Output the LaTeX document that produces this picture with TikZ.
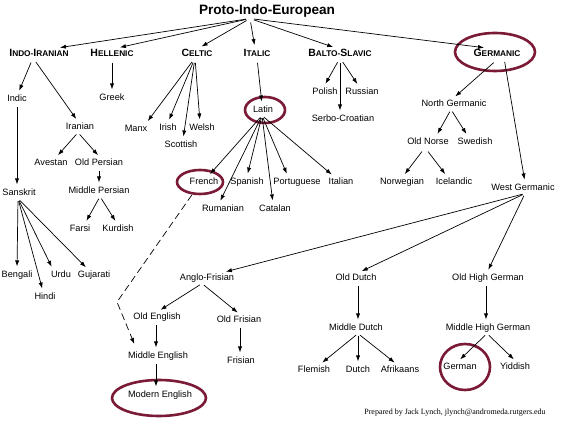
\documentclass[tikz,border=0pt]{standalone}
\usepackage{fontspec}
\setmainfont{Liberation Sans}
\newfontfamily\creditfont{Liberation Serif}
\usetikzlibrary{arrows.meta}
\definecolor{ringred}{HTML}{7A1A36}
\newcommand{\bc}[1]{{\fontsize{10.5}{11}\selectfont #1}}
\begin{document}
\begin{tikzpicture}[x=1pt,y=-1pt,
  lang/.style={font=\fontsize{9.2}{10}\selectfont, inner sep=1pt, text height=6.8pt, text depth=1.9pt},
  hdr/.style={font=\bfseries\fontsize{8.3}{9}\selectfont, inner sep=1pt, text height=7pt, text depth=0.5pt},
  arr/.style={draw, line width=0.7pt, -{Latex[length=6pt,width=4.2pt]}, shorten <=2.5pt, shorten >=3pt},
  hs/.style={shorten <=5pt},
  ring/.style={draw=ringred, line width=2.6pt},
]
\useasboundingbox (0,0) rectangle (576,427);
\fill[white] (0,0) rectangle (576,427);

% title and branches
\node[font=\bfseries\fontsize{13.6}{14}\selectfont, inner sep=1pt] (title) at (267,11) {Proto-Indo-European};
\node[hdr] (ii)  at (39,53)  {\bc{I}NDO-\bc{I}RANIAN};
\node[hdr] (hel) at (112,53) {\bc{H}ELLENIC};
\node[hdr] (cel) at (197,53) {\bc{C}ELTIC};
\node[hdr] (ita) at (257,53) {\bc{I}TALIC};
\node[hdr] (bs)  at (340,53) {\bc{B}ALTO-\bc{S}LAVIC};
\node[hdr] (ger) at (497,53) {\bc{G}ERMANIC};

% languages
\node[lang] (indic) at (17,99) {Indic};
\node[lang] (greek) at (112,98) {Greek};
\node[lang] (latin) at (263,110) {Latin};
\node[lang] (iranian) at (80,127) {Iranian};
\node[lang] (manx) at (136,129) {Manx};
\node[lang] (irish) at (168,128) {Irish};
\node[lang] (welsh) at (202,128) {Welsh};
\node[lang] (scottish) at (181,145) {Scottish};
\node[lang] (polish) at (325,92) {Polish};
\node[lang] (russian) at (362,92) {Russian};
\node[lang] (serbo) at (343,119) {Serbo-Croatian};
\node[lang] (ng) at (454,104) {North Germanic};
\node[lang] (onorse) at (428,142) {Old Norse};
\node[lang] (swedish) at (475,142) {Swedish};
\node[lang] (avestan) at (51,163) {Avestan};
\node[lang] (opersian) at (99,163) {Old Persian};
\node[lang] (sanskrit) at (19,193) {Sanskrit};
\node[lang] (mpersian) at (99,191) {Middle Persian};
\node[lang] (farsi) at (80,229) {Farsi};
\node[lang] (kurdish) at (118,229) {Kurdish};
\node[lang] (bengali) at (17,275) {Bengali};
\node[lang] (urdu) at (61,275) {Urdu};
\node[lang] (gujarati) at (94,275) {Gujarati};
\node[lang] (hindi) at (45,297) {Hindi};
\node[lang] (french) at (204,182) {French};
\node[lang] (spanish) at (247,182) {Spanish};
\node[lang] (portuguese) at (297,182) {Portuguese};
\node[lang] (italian) at (341,182) {Italian};
\node[lang] (rumanian) at (223,209) {Rumanian};
\node[lang] (catalan) at (275,209) {Catalan};
\node[lang] (norwegian) at (402,182) {Norwegian};
\node[lang] (icelandic) at (454,182) {Icelandic};
\node[lang] (wg) at (523,188) {West Germanic};
\node[lang] (oldd) at (356,278) {Old Dutch};
\node[lang] (ohg) at (488,278) {Old High German};
\node[lang] (af) at (207,278) {Anglo-Frisian};
\node[lang] (oe) at (157,317) {Old English};
\node[lang] (ofr) at (239,320) {Old Frisian};
\node[lang] (me) at (158,356) {Middle English};
\node[lang] (frisian) at (241,361) {Frisian};
\node[lang] (mode) at (160,395) {Modern English};
\node[lang] (md) at (356,328) {Middle Dutch};
\node[lang] (flemish) at (314,370) {Flemish};
\node[lang] (dutch) at (358,370) {Dutch};
\node[lang] (afrikaans) at (400,370) {Afrikaans};
\node[lang] (mhg) at (488,328) {Middle High German};
\node[lang] (german) at (460,367) {German};
\node[lang] (yiddish) at (515,367) {Yiddish};

\node[font=\creditfont\fontsize{8}{9}\selectfont, inner sep=0pt] (credit) at (455,413) {Prepared by Jack Lynch, jlynch@andromeda.rutgers.edu};

% rings
\draw[ring] ([xshift=-2pt,yshift=1pt]ger.center) ellipse [x radius=40pt, y radius=19pt];
\draw[ring] ([xshift=2pt]latin.center) ellipse [x radius=20pt, y radius=13pt];
\draw[ring] ([xshift=-4pt]french.center) ellipse [x radius=23pt, y radius=12pt];
\draw[ring] ([xshift=-1pt,yshift=-3pt]mode.center) ellipse [x radius=47pt, y radius=18pt];
\draw[ring] ([xshift=5pt]german.center) ellipse [x radius=25pt, y radius=23pt];

% title arrows
\draw[arr, shorten <=4pt] ([xshift=-17pt]title.south) -- ([xshift=18pt]ii.north);
\draw[arr, shorten <=4pt] ([xshift=-17pt]title.south) -- ([xshift=5pt]hel.north);
\draw[arr, shorten <=4pt] ([xshift=-17pt]title.south) -- ([xshift=2pt]cel.north);
\draw[arr, shorten <=4pt] ([xshift=-17pt]title.south) -- ([xshift=-2pt]ita.north);
\draw[arr, shorten <=4pt] ([xshift=-17pt]title.south) -- ([xshift=-4pt]bs.north);
\draw[arr, shorten <=4pt] ([xshift=-17pt]title.south) -- ([xshift=-10pt]ger.north);

% Indo-Iranian
\draw[arr,hs] ([xshift=-6pt]ii.south) -- ([xshift=1pt]indic.north);
\draw[arr,hs] ([xshift=-6pt]ii.south) -- ([xshift=-2pt]iranian.north);
\draw[arr] (indic.south) -- ([xshift=-2pt]sanskrit.north);
\draw[arr] ([xshift=-2pt]iranian.south) -- ([xshift=5pt]avestan.north);
\draw[arr] ([xshift=-2pt]iranian.south) -- ([xshift=1pt]opersian.north);
\draw[arr] (opersian.south) -- (mpersian.north);
\draw[arr] ([xshift=1pt]mpersian.south) -- ([xshift=5pt]farsi.north);
\draw[arr] ([xshift=1pt]mpersian.south) -- ([xshift=-1pt]kurdish.north);
\draw[arr] ([xshift=-1pt]sanskrit.south) -- (bengali.north);
\draw[arr] ([xshift=-1pt]sanskrit.south) -- ([xshift=-2pt]hindi.north);
\draw[arr] ([xshift=-1pt]sanskrit.south) -- ([xshift=-8pt]urdu.north);
\draw[arr] ([xshift=-1pt]sanskrit.south) -- ([xshift=-6pt]gujarati.north);

% Hellenic
\draw[arr,hs] (hel.south) -- (greek.north);

% Celtic
\draw[arr,hs] ([xshift=-2pt]cel.south) -- ([xshift=10pt]manx.north);
\draw[arr,hs] ([xshift=-2pt]cel.south) -- (irish.north);
\draw[arr,hs] ([xshift=-2pt]cel.south) -- ([xshift=2pt]scottish.north);
\draw[arr,hs] ([xshift=-2pt]cel.south) -- ([xshift=-2pt]welsh.north);

% Italic
\draw[arr,hs] (ita.south) -- ([xshift=-1pt]latin.north);
\draw[arr] ([xshift=-1pt]latin.south) -- ([xshift=4pt]french.north);
\draw[arr] ([xshift=-1pt]latin.south) -- ([xshift=-4pt]rumanian.north);
\draw[arr] ([xshift=-1pt]latin.south) -- (spanish.north);
\draw[arr] ([xshift=-1pt]latin.south) -- ([xshift=-2pt]catalan.north);
\draw[arr] ([xshift=-1pt]latin.south) -- ([xshift=-9pt]portuguese.north);
\draw[arr] ([xshift=-1pt]latin.south) -- ([xshift=-7pt]italian.north);

% Balto-Slavic
\draw[arr,hs] (bs.south) -- ([xshift=-1pt]polish.north);
\draw[arr,hs] (bs.south) -- ([xshift=-3pt]russian.north);
\draw[arr,hs] (bs.south) -- ([xshift=-3pt]serbo.north);

% Germanic
\draw[arr, shorten <=7pt] ([xshift=2pt]ger.south) -- ([xshift=-1pt]ng.north);
\draw[arr, shorten <=4pt] ([xshift=7pt]ger.south) -- ([xshift=2pt]wg.north);
\draw[arr] ([xshift=-3pt]ng.south) -- ([xshift=8pt]onorse.north);
\draw[arr] ([xshift=-3pt]ng.south) -- ([xshift=-7pt]swedish.north);
\draw[arr, shorten <=5pt] ([xshift=-3pt]onorse.south) -- ([xshift=1pt]norwegian.north);
\draw[arr, shorten <=5pt] ([xshift=-3pt]onorse.south) -- ([xshift=-7pt]icelandic.north);
\draw[arr] ([xshift=2pt]wg.south) -- ([xshift=16pt]af.north);
\draw[arr] ([xshift=2pt]wg.south) -- ([xshift=3pt]oldd.north);
\draw[arr] ([xshift=2pt]wg.south) -- ([xshift=-1pt]ohg.north);
\draw[arr] ([xshift=-5pt]af.south) -- ([xshift=1pt]oe.north);
\draw[arr] ([xshift=-5pt]af.south) -- ([xshift=1pt]ofr.north);
\draw[arr] ([xshift=-1pt]oe.south) -- ([xshift=-2pt]me.north);
\draw[arr] ([xshift=1pt]ofr.south) -- ([xshift=-1pt]frisian.north);
\draw[arr] ([xshift=-2pt]me.south) -- ([xshift=-4pt]mode.north);
\draw[arr] ([xshift=2pt]oldd.south) -- ([xshift=2pt]md.north);
\draw[arr] ([xshift=2pt]md.south) -- ([xshift=6pt]flemish.north);
\draw[arr] ([xshift=2pt]md.south) -- (dutch.north);
\draw[arr] ([xshift=2pt]md.south) -- ([xshift=-3pt]afrikaans.north);
\draw[arr] ([xshift=-2pt]ohg.south) -- ([xshift=-2pt]mhg.north);
\draw[arr] ([xshift=-1pt]mhg.south) -- ([xshift=-2pt]german.north);
\draw[arr] ([xshift=-1pt]mhg.south) -- ([xshift=1pt]yiddish.north);

% French -> Middle English (dashed)
\coordinate (frbend) at (117,302);
\draw[arr, dashed, dash pattern=on 7pt off 4pt, shorten <=9pt, shorten >=7pt] ([xshift=-7pt]french.south) -- (frbend) -- ([xshift=-21pt]me.north);
\end{tikzpicture}
\end{document}
